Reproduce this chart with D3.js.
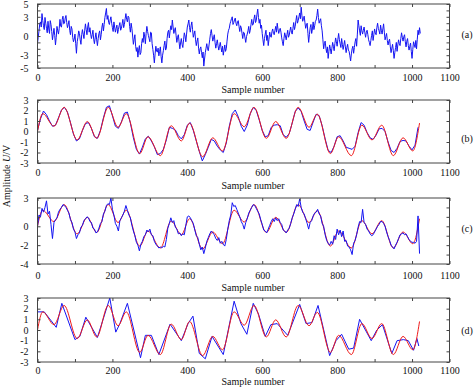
<!DOCTYPE html>
<html>
<head>
<meta charset="utf-8">
<script src="https://cdn.jsdelivr.net/npm/d3@7"></script>
<style>
  body { margin: 0; background: #fff; }
</style>
</head>
<body>
<svg id="chart" width="474" height="388"></svg>
<script>
// Four stacked signal panels: noisy observation and three recoveries against the clean signal.

// X axis: sample number.
const xTicks = [0, 100, 200, 300, 400, 500, 600, 700, 800, 900, 1000, 1100];
const xTickLabels = [0, 200, 400, 600, 800, 1000, 1100];

// Y tick labels per panel.
const aTickLabels = [5, 3, 0, -3, -5];
const bTickLabels = [3, 2, 1, 0, -1, -2, -3];
const cTickLabels = [3, 0, -2, -4];
const dTickLabels = [3, 2, 1, 0, -1, -2, -3];

// (a) observed noisy signal, one value every 2 samples.
const observedStep = 2;
const observedSignal = [
  -1.1, -0.2, 0.8, 1.9, 2.2, 1.4, 3.5, 2.4, 1.6, 1.0, 2.9, 2.0, 1.2, 0.5, 2.3, 1.1, 0.4, 2.4, 1.8, 0.7, -0.6, 0.3, 1.2, 0.1, -1.4, -0.2, 1.5, 0.8, 0.3, 1.2, 2.6, 1.5,
  1.4, 2.6, 3.1, 1.9, 2.0, 2.8, 3.2, 2.1, 1.3, 1.8, 2.4, 0.9, 0.2, 1.5, 1.1, -0.2, -0.9, -0.5, 0.3, -1.2, -2.7, -0.9, -0.2, 0.8, 0.4, -0.6, -1.3, 0.2, 1.0, 0.3, -0.4, 0.9,
  1.9, 1.0, 0.2, 1.4, 2.1, 0.6, 1.3, 0.3, -0.4, 0.2, 0.9, -0.5, -1.2, -0.3, 0.5, -0.6, -1.5, -0.4, 0.4, 0.8, -0.6, 0.2, 1.4, 2.0, 0.8, 1.8, 2.9, 3.6, 4.3, 2.6, 3.2, 2.1,
  1.8, 2.5, 3.0, 2.0, 1.3, 0.7, 2.2, 1.4, 0.6, 1.2, 1.7, 0.4, 1.0, 1.6, 2.1, 0.9, 1.2, 1.9, 2.6, 1.3, 1.8, 2.7, 3.5, 2.6, 2.2, 3.1, 2.9, 1.5, 0.6, 2.0, 1.2, 0.0,
  -1.3, -0.5, 0.2, -1.6, -2.4, -1.8, -3.3, -2.2, -1.5, -2.9, -2.6, -1.2, -0.4, -1.0, 0.6, 0.0, -1.2, 0.4, 1.5, 0.7, 0.1, -0.4, -0.9, 0.6, 0.5, -1.2, -2.1, -3.0, -4.2, -2.8, -1.6, -2.4,
  -2.5, -1.9, -3.1, -2.4, -1.7, -3.2, -4.2, -3.0, -2.3, -1.5, -0.8, -2.2, -1.9, -0.4, 0.6, 0.9, -0.3, 0.8, 1.6, 1.0, 2.5, 1.4, 0.4, 0.9, 1.3, 0.1, -1.0, -0.2, 0.2, -0.9, -2.0, -1.1,
  -0.4, -1.3, -1.8, -0.6, 0.5, 0.0, -0.9, 0.3, 1.4, 1.9, 2.5, 1.3, 0.6, 1.6, 2.2, 1.0, -0.2, 0.3, 0.8, -0.6, -1.5, -0.8, -0.3, -1.9, -2.8, -2.0, -1.7, -2.6, -3.4, -2.5, -4.7, -3.6,
  -2.6, -1.9, -1.2, -2.0, -2.3, -1.4, -0.5, 0.4, 1.0, 0.1, -0.8, -0.3, 0.2, -1.0, -1.9, -1.2, -0.6, -1.5, -2.2, -1.6, -1.0, -1.8, -2.5, -1.6, -3.0, -2.2, -1.4, -2.4, -2.0, -0.8, 0.3, 0.9,
  1.2, 1.9, 2.3, 2.7, 3.0, 1.8, 2.1, 2.5, 2.8, 2.0, 1.6, 2.2, 2.4, 1.5, 0.7, 1.6, 1.3, 0.4, -0.4, 0.6, 0.5, -0.3, -1.0, -0.1, 0.3, 0.8, 1.5, 0.4, 0.9, 1.8, 2.6, 1.7,
  1.8, 2.7, 3.3, 2.1, 2.4, 3.4, 4.2, 2.9, 2.0, 2.6, 1.2, 1.7, 0.4, -0.6, -1.5, -0.4, 0.3, 0.9, -0.7, 0.1, -1.5, -0.5, 0.6, 0.0, -0.2, 0.7, 1.1, 0.4, 0.2, 0.9, 1.5, 0.6,
  2.0, 1.1, 0.4, 0.9, 1.2, 0.6, -0.3, -0.9, -1.5, -0.4, 0.5, 0.0, -0.6, 0.2, 0.9, -0.2, 0.1, 0.8, 1.4, 0.6, 0.3, 1.2, 2.1, 1.0, 1.5, 2.4, 3.2, 2.0, 2.4, 3.0, 3.6, 2.7,
  4.5, 3.2, 2.3, 2.7, 3.1, 2.1, 1.2, 1.7, 2.0, 0.4, -1.0, 0.2, 1.3, 1.8, 0.4, 1.1, 2.2, 1.0, 1.6, 2.3, 2.5, 3.2, 4.2, 2.9, 2.0, 2.4, 2.7, 1.6, 0.8, -0.6, -2.0, -1.2,
  -0.8, -1.9, -2.6, -1.7, -3.5, -2.4, -1.4, -2.0, -2.8, -1.9, -1.0, -1.6, -2.3, -1.2, -0.3, -0.9, -1.6, -0.5, 0.4, -0.6, -1.2, -1.8, -0.4, -1.3, -2.1, -1.4, -0.7, -1.7, -2.6, -1.8, -1.3, -2.2,
  -2.4, -3.1, -3.9, -2.8, -2.0, -1.6, -2.7, -1.8, -0.9, -0.4, -1.6, 0.3, 2.5, 1.6, 0.8, 0.1, 1.6, 0.8, 0.3, 0.9, 1.4, 0.5, -0.2, 0.6, 0.9, 0.2, -0.6, -1.0, -1.5, -0.7, 0.1, 0.8,
  -0.7, 0.2, 1.1, 0.5, 0.2, 1.3, 2.0, 1.2, 0.8, 0.3, 1.7, 0.9, 0.3, 1.1, 1.9, 0.6, -0.6, -0.1, 0.4, -0.7, -1.4, -0.8, -0.5, -1.7, -2.6, -1.9, -1.3, -2.3, -3.5, -2.6, -1.8, -1.0,
  -2.4, -1.4, -0.6, -1.2, -1.5, -0.4, 0.5, -0.2, -0.8, -0.1, 0.2, -0.9, -1.7, -0.8, -0.4, -1.5, -2.2, -1.6, -1.1, -2.4, -3.5, -2.1, -0.9, -1.3, -1.8, -0.7, -2.0, -0.5, 0.9, 0.2, 1.3, 0.4
];

// Clean reference signal (red), read at its turning points.
const cleanSamples = [0, 14, 44, 71, 106, 133, 158, 189, 215, 237, 273, 295, 328, 357, 384, 406,
  441, 468, 494, 525, 552, 578, 611, 636, 664, 696, 725, 747, 782, 804, 838, 866, 893, 919,
  950, 976, 1002, 1020];
const cleanValues = [0, 1.7, 0.5, 2.3, -0.8, 0.95, -0.65, 2.3, 0.4, 1.7, -2.1, -0.5, -2.3, 0.55, -0.9, 0.8,
  -2.4, -0.6, -1.85, 1.7, 0.45, 2.3, -0.65, 0.95, -0.65, 2.3, 0.4, 1.65, -2.1, -0.5, -2.3, 0.6, -0.8, 0.6,
  -2.3, -0.6, -1.85, 0.8];

// (b) recovered signal, one value every 8 samples.
const recoveredBStep = 8;
const recoveredB = [
  0.1, 1.2, 1.95, 1.6, 1.0, 0.5, 0.6, 1.3, 2.05, 2.3, 1.85, 0.85, -0.25, -0.9, -0.7, 0.1,
  0.75, 0.85, 0.3, -0.5, -0.65, 0.1, 1.3, 2.3, 2.45, 1.5, 0.5, 0.3, 0.9, 1.75, 1.85, 0.8,
  -0.6, -1.7, -2.15, -1.5, -0.7, -0.45, -0.9, -1.45, -2.2, -2.1, -1.7, -0.8, 0.4, 0.3, 0.15, -0.4,
  -0.7, -0.3, 0.6, 0.85, 0.1, -0.9, -1.9, -2.8, -2.2, -1.5, -0.75, -0.9, -1.4, -1.75, -2.0, -1.1,
  0.5, 1.7, 2.05, 1.4, 0.5, 0.0, 0.6, 1.7, 2.3, 2.0, 1.1, 0.1, -0.5, -0.4, 0.4, 0.6,
  0.65, 0.55, -0.3, -0.55, -0.2, 0.8, 1.9, 2.25, 1.9, 1.0, 0.2, 0.1, 0.9, 1.65, 1.5, 0.55,
  -0.7, -1.8, -2.0, -1.4, -0.5, -0.4, -0.9, -1.5, -1.6, -1.7, -1.4, -0.1, 0.85, 0.6, -0.1, -0.6,
  -0.75, -0.35, 0.25, 0.3, 0.0, -1.0, -1.8, -2.0, -1.6, -0.95, -0.85, -0.9, -1.4, -1.75, -1.3, 0.4
];

// (c) recovered signal, one value every 4 samples.
const recoveredCStep = 4;
const recoveredC = [
  0.0, 1.2, 1.0, 1.9, 1.5, 2.0, 2.7, 1.3, 1.6, 0.2, -1.3, 0.4, 0.7, 0.9, 1.5, 1.8,
  2.0, 2.3, 2.2, 2.0, 1.7, 1.4, 0.7, 0.4, -0.3, -0.6, -1.3, -0.9, -0.7, -0.1, 0.1, 0.6,
  0.8, 1.0, 0.9, 0.5, 0.4, -0.2, -0.3, -0.7, -0.6, -0.2, 0.3, 0.5, 1.3, 1.6, 2.2, 2.4,
  2.3, 3.0, 1.8, 1.2, 0.3, 0.0, -0.5, 0.6, 0.9, 1.2, 1.6, 2.2, 1.7, 1.2, 0.9, 0.1,
  -0.5, -1.0, -1.7, -2.0, -2.6, -1.9, -1.6, -1.1, -0.9, -0.4, -0.6, -0.3, -0.9, -1.0, -1.6, -1.9,
  -2.1, -2.3, -2.2, -2.3, -2.1, -2.2, -1.4, -0.2, 0.3, 0.9, 0.4, 0.6, -0.1, -0.3, -0.8, -0.7,
  -1.0, -0.8, -0.9, 0.1, 1.0, 1.1, 0.9, 0.6, 0.3, -0.4, -1.0, -1.2, -1.9, -2.5, -2.2, -2.9,
  -2.3, -1.6, -1.2, -0.8, -0.5, -0.7, -0.9, -1.3, -1.5, -1.2, -1.8, -1.6, -1.9, -2.1, -1.4, -0.3,
  0.6, 1.2, 2.5, 2.1, 2.2, 1.8, 1.4, 1.0, 0.5, 0.2, -0.3, 0.4, 0.8, 1.4, 1.7, 2.0,
  2.3, 2.2, 1.9, 1.6, 1.3, 0.7, 0.2, -0.4, -0.5, -0.7, -0.3, 0.1, 0.5, 0.8, 0.5, 0.9,
  0.6, 0.8, 0.4, 0.2, -0.4, -0.5, -0.7, -0.4, -0.2, 0.3, 0.9, 1.3, 1.8, 2.3, 2.1, 2.9,
  2.0, 1.5, 1.3, 0.8, 0.3, -0.3, 0.4, 0.6, 1.1, 1.4, 1.5, 1.8, 1.3, 1.1, 0.3, 0.0,
  -0.9, -1.5, -1.8, -2.0, -1.6, -1.9, -1.0, -1.4, -0.3, -0.9, -0.4, -1.1, -0.5, -1.6, -1.5, -2.1,
  -2.2, -2.5, -3.0, -1.8, -1.5, -0.9, -0.1, 0.5, 0.4, 1.8, 0.4, 0.2, -0.3, -0.5, -0.8, -1.0,
  -0.9, -0.6, -0.3, 0.0, 0.2, 0.5, 0.5, 0.3, 0.0, -0.6, -1.1, -1.5, -2.0, -2.2, -2.4, -2.0,
  -1.7, -1.3, -0.9, -0.8, -0.7, -0.9, -0.8, -1.1, -1.4, -1.6, -1.7, -1.7, -1.8, -1.6, 1.1, -2.9
];

// (d) recovered signal, read at its corners.
const recoveredDSamples = [0, 18, 50, 65, 100, 113, 129, 160, 193, 209, 220, 240, 275, 288, 304, 324,
  354, 384, 402, 415, 432, 448, 466, 496, 525, 543, 559, 576, 590, 608, 623, 640, 668, 700, 717,
  733, 749, 780, 797, 812, 831, 844, 860, 891, 906, 921, 946, 960, 977, 990, 1004, 1013, 1018];
const recoveredDValues = [1.7, 1.7, 0.25, 2.5, -0.9, -0.6, 1.2, -0.7, 3.0, -0.2, 0.6, 2.5, -2.6, -0.5, -0.5, -2.3,
  0.55, -1.0, 0.6, 1.3, -2.2, -2.7, -0.6, -2.3, 2.7, 0.6, -0.4, 2.5, 1.5, -0.6, 0.5, 0.6, -0.5, 2.4, 0.6,
  0.7, 2.3, -2.4, -1.0, -0.4, -1.8, -1.7, 1.0, -1.0, 0.0, 0.5, -2.2, -1.0, -0.9, -1.0, -1.9, -0.8, -1.5];

const blue = '#1414f2';
const red = '#ee1a1a';
const frameColor = '#444';
const serif = '"Liberation Serif", "Times New Roman", Times, serif';

const observedPoints = observedSignal.map((v, i) => [i * observedStep, v]);
const cleanPoints = cleanSamples.map((s, i) => [s, cleanValues[i]]);
const bPoints = recoveredB.map((v, i) => [i * recoveredBStep, v]);
const cPoints = recoveredC.map((v, i) => [i * recoveredCStep, v]);
const dPoints = recoveredDSamples.map((s, i) => [s, recoveredDValues[i]]);

const cleanLine = { points: cleanPoints, color: red, curve: d3.curveMonotoneX };

const panels = [
  { tag: '(a)', top: 4, bottom: 68, domain: [-5, 5], labels: aTickLabels,
    tickY: 80.5, titleY: 92.5, tagY: 38,
    series: [{ points: observedPoints, color: blue }] },
  { tag: '(b)', top: 100, bottom: 163, domain: [-3, 3], labels: bTickLabels,
    tickY: 175.5, titleY: 188.5, tagY: 142,
    series: [{ points: bPoints, color: blue }, cleanLine] },
  { tag: '(c)', top: 198, bottom: 264, domain: [-4, 3], labels: cTickLabels,
    tickY: 278.5, titleY: 291, tagY: 232,
    series: [cleanLine, { points: cPoints, color: blue }] },
  { tag: '(d)', top: 298, bottom: 362, domain: [-3, 3], labels: dTickLabels,
    tickY: 373.5, titleY: 385, tagY: 334,
    series: [{ points: dPoints, color: blue }, cleanLine] }
];

const svg = d3.select('#chart').attr('font-family', serif);
const x = d3.scaleLinear().domain([0, 1100]).range([37.5, 449.5]);

panels.forEach((p, k) => {
  const y = d3.scaleLinear().domain(p.domain).range([p.bottom, p.top]);
  const g = svg.append('g');

  // Clip lines to the plot box.
  svg.append('clipPath').attr('id', 'clip' + k)
    .append('rect')
    .attr('x', x(0))
    .attr('y', p.top)
    .attr('width', x(1100) - x(0))
    .attr('height', p.bottom - p.top);

  const plot = g.append('g').attr('clip-path', `url(#clip${k})`);
  p.series.forEach(s => {
    const line = d3.line()
      .x(d => x(d[0]))
      .y(d => y(d[1]))
      .curve(s.curve || d3.curveLinear);
    plot.append('path')
      .datum(s.points)
      .attr('fill', 'none')
      .attr('stroke', s.color)
      .attr('stroke-width', 1)
      .attr('stroke-linejoin', 'round')
      .attr('d', line);
  });

  const yTicks = d3.range(p.domain[0], p.domain[1] + 1);

  // Bottom axis with labels, inward ticks.
  const bottomAxis = g.append('g')
    .attr('transform', `translate(0,${p.bottom})`)
    .call(d3.axisBottom(x).tickValues(xTicks).tickSizeInner(-3).tickSizeOuter(0)
      .tickFormat(d => xTickLabels.includes(d) ? String(d) : ''));
  bottomAxis.selectAll('text')
    .attr('dy', null)
    .attr('y', p.tickY - p.bottom);

  g.append('g')
    .attr('transform', `translate(0,${p.top})`)
    .call(d3.axisTop(x).tickValues(xTicks).tickSizeInner(-3).tickSizeOuter(0).tickFormat(''));

  g.append('g')
    .attr('transform', `translate(${x(0)},0)`)
    .call(d3.axisLeft(y).tickValues(yTicks).tickSizeInner(-3).tickSizeOuter(0).tickPadding(9)
      .tickFormat(d => p.labels.includes(d) ? String(d) : ''));

  g.append('g')
    .attr('transform', `translate(${x(1100)},0)`)
    .call(d3.axisRight(y).tickValues(yTicks).tickSizeInner(-3).tickSizeOuter(0).tickFormat(''));

  g.selectAll('.domain').remove();
  g.selectAll('.tick line').attr('stroke', frameColor);
  g.selectAll('g').attr('font-family', serif).attr('font-size', 10);
  g.selectAll('.tick text').attr('fill', '#111');

  // Plot frame.
  g.append('rect')
    .attr('x', x(0))
    .attr('y', p.top)
    .attr('width', x(1100) - x(0))
    .attr('height', p.bottom - p.top)
    .attr('fill', 'none')
    .attr('stroke', frameColor)
    .attr('stroke-width', 1);

  g.append('text')
    .attr('x', 253)
    .attr('y', p.titleY)
    .attr('text-anchor', 'middle')
    .attr('font-family', serif)
    .attr('font-size', 10)
    .attr('fill', '#111')
    .text('Sample number');

  g.append('text')
    .attr('x', 467)
    .attr('y', p.tagY)
    .attr('text-anchor', 'middle')
    .attr('font-family', serif)
    .attr('font-size', 10)
    .attr('fill', '#111')
    .text(p.tag);
});

// Shared y-axis title.
const yTitle = svg.append('text')
  .attr('transform', 'translate(10,176) rotate(-90)')
  .attr('text-anchor', 'middle')
  .attr('font-family', serif)
  .attr('font-size', 10)
  .attr('fill', '#111');
yTitle.append('tspan').text('Amplitude ');
yTitle.append('tspan').attr('font-style', 'italic').text('U');
yTitle.append('tspan').text('/V');
</script>
</body>
</html>
